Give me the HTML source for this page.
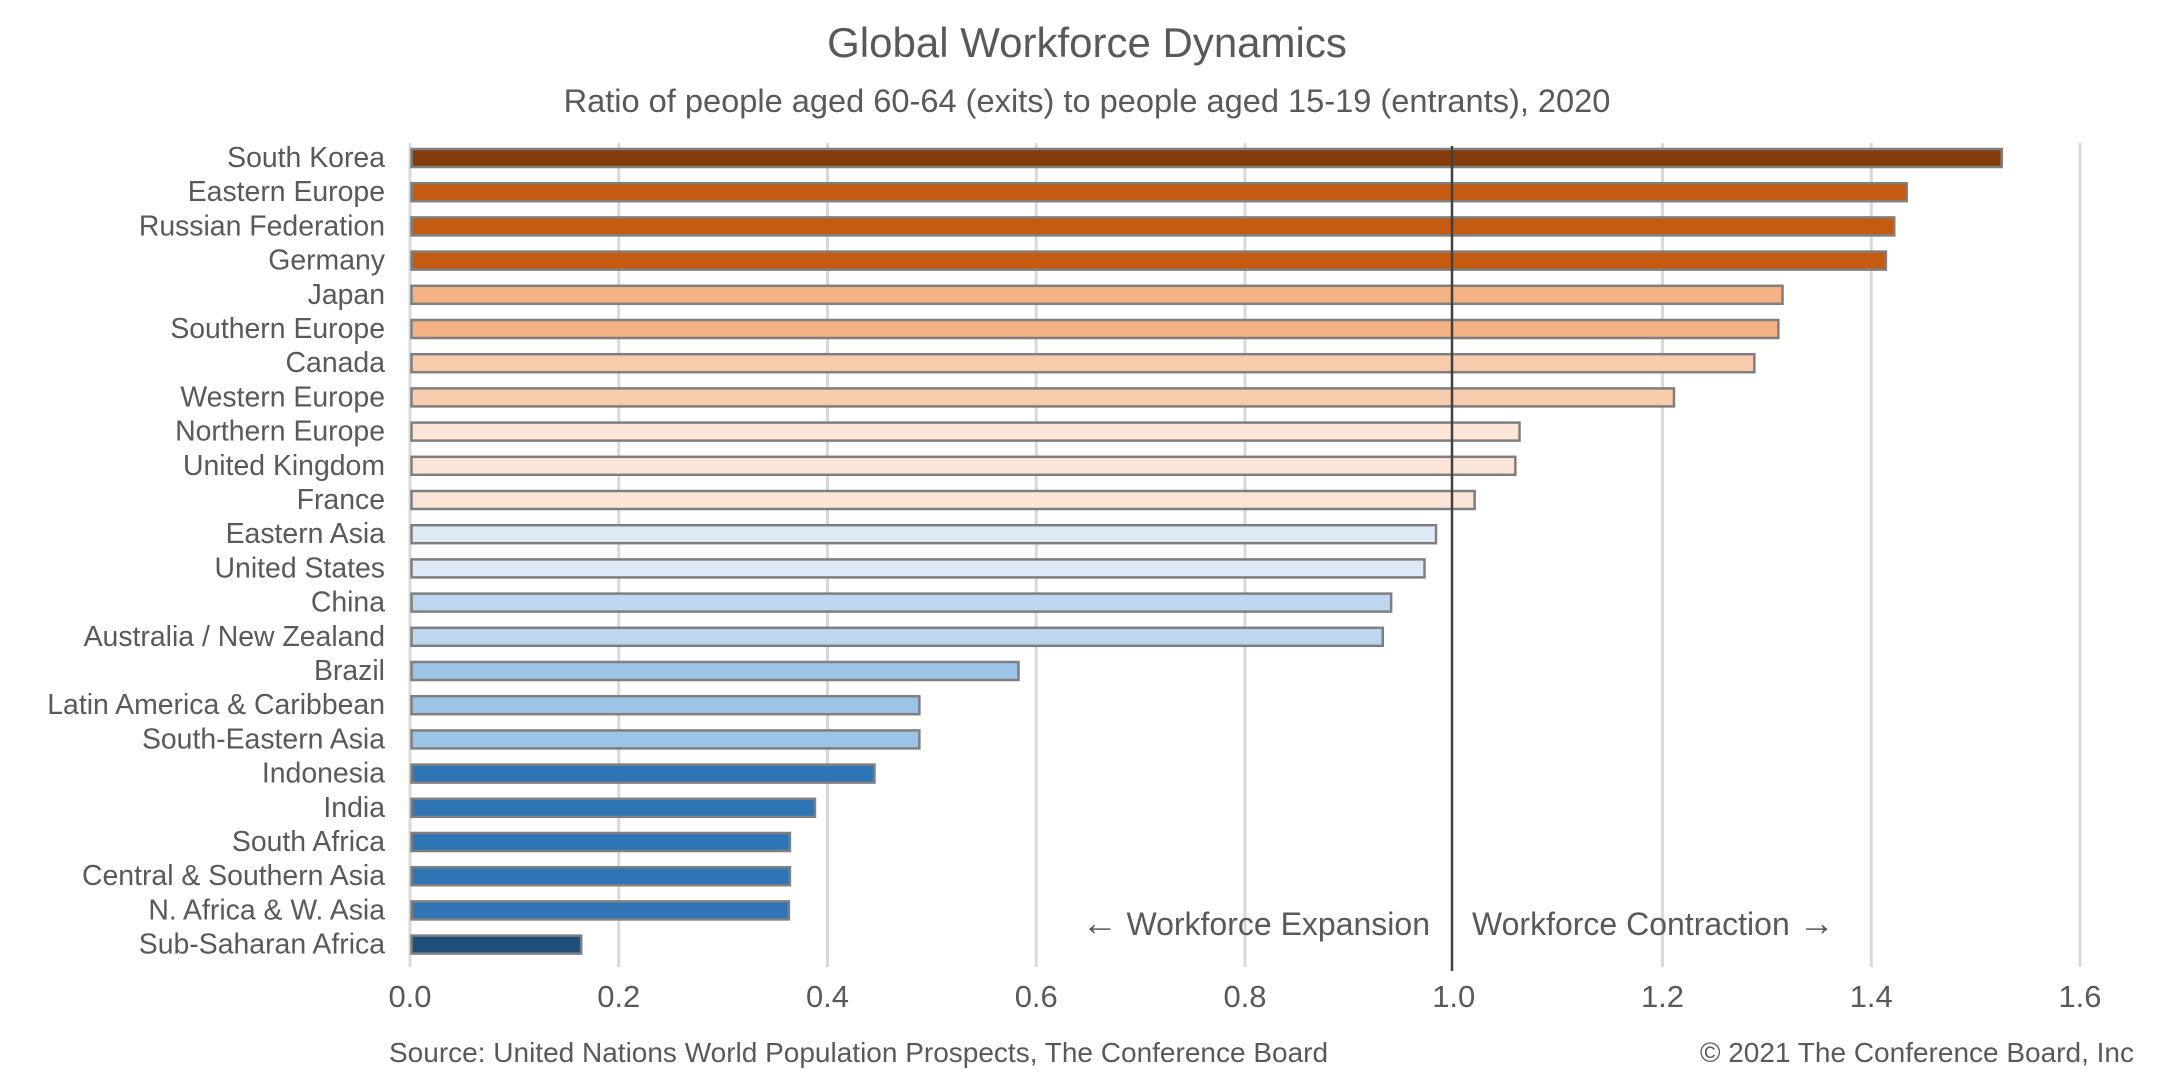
<!DOCTYPE html>
<html><head><meta charset="utf-8"><style>
html,body{margin:0;padding:0;background:#fff;}
svg{display:block;font-family:"Liberation Sans",sans-serif;}
</style></head><body>
<svg width="2160" height="1075" viewBox="0 0 2160 1075" xmlns="http://www.w3.org/2000/svg">
<text x="1087" y="57" font-size="42" fill="#595959" text-anchor="middle">Global Workforce Dynamics</text>
<text x="1087" y="112" font-size="32.6" fill="#595959" text-anchor="middle">Ratio of people aged 60-64 (exits) to people aged 15-19 (entrants), 2020</text>
<g stroke="#d9d9d9" stroke-width="3">
<line x1="410" y1="143" x2="410" y2="967"/>
<line x1="618.75" y1="143" x2="618.75" y2="967"/>
<line x1="827.5" y1="143" x2="827.5" y2="967"/>
<line x1="1036.25" y1="143" x2="1036.25" y2="967"/>
<line x1="1245" y1="143" x2="1245" y2="967"/>
<line x1="1662.5" y1="143" x2="1662.5" y2="967"/>
<line x1="1871.25" y1="143" x2="1871.25" y2="967"/>
<line x1="2080" y1="143" x2="2080" y2="967"/>
</g>
<g font-size="31" fill="#595959" text-anchor="middle">
<text x="410" y="1007">0.0</text><text x="618.75" y="1007">0.2</text><text x="827.5" y="1007">0.4</text><text x="1036.25" y="1007">0.6</text><text x="1245" y="1007">0.8</text><text x="1453.75" y="1007">1.0</text><text x="1662.5" y="1007">1.2</text><text x="1871.25" y="1007">1.4</text><text x="2080" y="1007">1.6</text>
</g>
<g id="bars" stroke="#7f7f7f" stroke-width="2.5"></g>
<g id="labels" font-size="28.4" fill="#595959" text-anchor="end"></g>
<line x1="1452" y1="146" x2="1452" y2="971" stroke="#404040" stroke-width="2.5"/>
<text x="1430" y="935" font-size="32" fill="#595959" text-anchor="end"><tspan font-size="36">←</tspan> Workforce Expansion</text>
<text x="1472" y="935" font-size="32" fill="#595959">Workforce Contraction <tspan font-size="36">→</tspan></text>
<text x="389" y="1062" font-size="28" fill="#595959">Source: United Nations World Population Prospects, The Conference Board</text>
<text x="2134" y="1062" font-size="28" fill="#595959" text-anchor="end">© 2021 The Conference Board, Inc</text>
</svg>
<script>
var d=[["South Korea",1.525,"#843C0C"],["Eastern Europe",1.434,"#C55A11"],["Russian Federation",1.422,"#C55A11"],["Germany",1.414,"#C55A11"],["Japan",1.315,"#F4B183"],["Southern Europe",1.311,"#F4B183"],["Canada",1.288,"#F8CBAD"],["Western Europe",1.211,"#F8CBAD"],["Northern Europe",1.063,"#FBE5D6"],["United Kingdom",1.059,"#FBE5D6"],["France",1.020,"#FBE5D6"],["Eastern Asia",0.983,"#DEEBF7"],["United States",0.972,"#DEEBF7"],["China",0.940,"#BDD7EE"],["Australia / New Zealand",0.932,"#BDD7EE"],["Brazil",0.583,"#9DC3E6"],["Latin America & Caribbean",0.488,"#9DC3E6"],["South-Eastern Asia",0.488,"#9DC3E6"],["Indonesia",0.445,"#2E75B6"],["India",0.388,"#2E75B6"],["South Africa",0.364,"#2E75B6"],["Central & Southern Asia",0.364,"#2E75B6"],["N. Africa & W. Asia",0.363,"#2E75B6"],["Sub-Saharan Africa",0.164,"#1F4E79"]];
var ns="http://www.w3.org/2000/svg",b=document.getElementById("bars"),l=document.getElementById("labels");
d.forEach(function(r,i){var cy=158+i*34.2;
var e=document.createElementNS(ns,"rect");e.setAttribute("x",411.5);e.setAttribute("y",cy-9);e.setAttribute("width",r[1]*1043.75-1.5);e.setAttribute("height",18);e.setAttribute("fill",r[2]);b.appendChild(e);
var t=document.createElementNS(ns,"text");t.setAttribute("x",385);t.setAttribute("y",cy+9);t.textContent=r[0];l.appendChild(t);});
</script>
</body></html>
